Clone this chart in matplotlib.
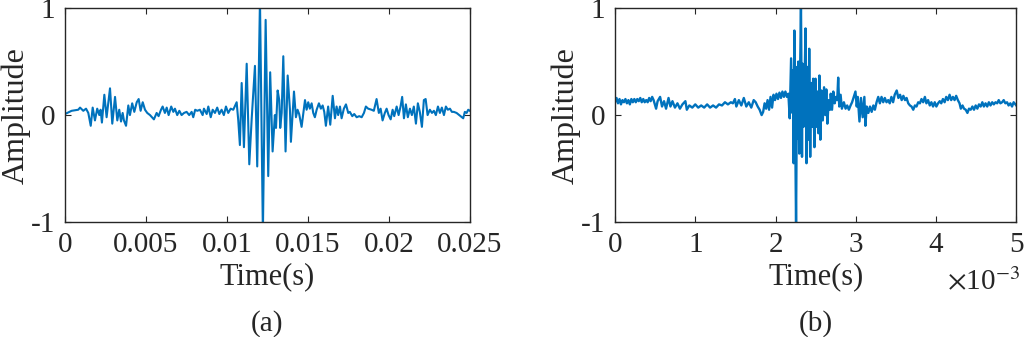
import numpy as np
import matplotlib
matplotlib.use('Agg')
import matplotlib.pyplot as plt
from matplotlib.ticker import FuncFormatter

plt.rcParams['font.family'] = ['Liberation Serif', 'DejaVu Serif']
plt.rcParams['mathtext.fontset'] = 'stix'
plt.rcParams['axes.unicode_minus'] = False

# (a) signal, time in ms, amplitude normalised
time_a_ms = [
    0.00, 0.41, 0.82, 0.93, 1.13, 1.30, 1.44, 1.59, 1.71, 1.85,
    1.99, 2.12, 2.20, 2.28, 2.43, 2.57, 2.78, 2.92, 3.09, 3.23,
    3.35, 3.46, 3.56, 3.64, 3.77, 3.91, 4.01, 4.15, 4.28, 4.43,
    4.55, 4.67, 4.80, 4.94, 5.08, 5.25, 5.49, 5.66, 5.78, 5.93,
    6.03, 6.17, 6.28, 6.40, 6.56, 6.69, 6.79, 6.93, 7.06, 7.20,
    7.35, 7.51, 7.67, 7.82, 7.92, 8.04, 8.17, 8.33, 8.50, 8.58,
    8.75, 8.85, 9.00, 9.12, 9.26, 9.40, 9.53, 9.67, 9.81, 9.94,
    10.08, 10.23, 10.39, 10.60, 10.70, 10.80, 10.91, 11.05, 11.22, 11.38,
    11.53, 11.73, 11.87, 12.04, 12.22, 12.39, 12.55, 12.67, 12.82, 12.96,
    13.03, 13.13, 13.23, 13.29, 13.38, 13.48, 13.62, 13.75, 13.89, 13.95,
    14.14, 14.26, 14.36, 14.46, 14.61, 14.82, 14.92, 15.02, 15.12, 15.23,
    15.33, 15.43, 15.54, 15.68, 15.80, 15.91, 16.01, 16.11, 16.25, 16.38,
    16.53, 16.67, 16.77, 16.87, 16.98, 17.08, 17.22, 17.35, 17.49, 17.59,
    17.74, 17.86, 18.01, 18.17, 18.32, 18.46, 18.58, 18.72, 18.93, 19.07,
    19.24, 19.38, 19.49, 19.61, 19.75, 19.86, 19.98, 20.11, 20.23, 20.33,
    20.48, 20.60, 20.72, 20.82, 20.93, 21.05, 21.17, 21.30, 21.42, 21.54,
    21.67, 21.79, 21.91, 22.04, 22.16, 22.27, 22.39, 22.53, 22.66, 22.78,
    22.90, 23.03, 23.15, 23.27, 23.40, 23.52, 23.64, 23.77, 23.89, 24.01,
    24.18, 24.34, 24.49, 24.59, 24.69, 24.80, 24.90, 25.00,
]
amp_a = [
    0.01, 0.04, 0.05, 0.07, 0.04, 0.06, 0.02, -0.10, 0.07, -0.05,
    0.06, 0.00, 0.05, -0.07, 0.19, -0.02, 0.25, -0.08, 0.17, -0.05,
    0.05, -0.06, 0.02, -0.05, -0.10, 0.09, 0.00, 0.11, 0.03, 0.12,
    0.15, 0.04, 0.12, 0.05, 0.02, 0.00, -0.04, 0.02, -0.01, 0.05,
    0.08, 0.02, 0.07, 0.00, 0.08, 0.03, 0.06, 0.00, 0.04, 0.00,
    0.02, 0.03, 0.00, 0.03, -0.02, 0.05, 0.04, 0.05, 0.00, 0.06,
    0.01, 0.08, -0.02, 0.05, 0.02, 0.07, 0.01, 0.05, 0.00, 0.08,
    0.02, 0.06, 0.05, 0.12, -0.05, -0.28, 0.30, -0.30, 0.48, -0.46,
    -0.03, 0.46, -0.48, 1.08, -1.10, 0.89, -0.57, 0.40, -0.34, 0.00,
    -0.12, 0.23, 0.14, -0.12, 0.02, 0.55, -0.34, 0.37, 0.05, -0.25,
    0.22, -0.02, 0.05, 0.01, -0.11, 0.14, 0.05, 0.12, 0.06, 0.11,
    0.02, -0.02, 0.05, 0.11, 0.06, 0.09, 0.03, -0.10, 0.08, -0.09,
    0.18, -0.03, 0.08, 0.00, 0.08, -0.03, 0.06, 0.10, 0.02, 0.03,
    -0.01, 0.01, -0.02, -0.01, -0.02, 0.02, 0.08, 0.06, 0.05, 0.04,
    0.15, 0.02, 0.06, -0.05, 0.02, 0.06, 0.00, -0.04, 0.05, -0.01,
    0.08, 0.00, 0.08, 0.17, -0.03, 0.10, -0.02, 0.06, 0.00, 0.08,
    -0.08, 0.11, 0.03, -0.11, 0.14, 0.15, 0.00, 0.05, 0.02, 0.04,
    0.00, 0.08, 0.02, 0.07, 0.00, 0.08, 0.05, 0.06, 0.03, 0.03,
    0.02, 0.00, -0.02, -0.03, 0.03, 0.02, 0.05, 0.04,
]

# (b) signal
time_b_ms = [
    0.000, 0.019, 0.037, 0.056, 0.074, 0.093, 0.111, 0.130, 0.148, 0.167,
    0.185, 0.204, 0.222, 0.241, 0.259, 0.278, 0.296, 0.315, 0.333, 0.352,
    0.370, 0.389, 0.407, 0.426, 0.444, 0.463, 0.481, 0.512, 0.531, 0.562,
    0.586, 0.611, 0.636, 0.667, 0.691, 0.716, 0.747, 0.778, 0.809, 0.840,
    0.877, 0.895, 0.926, 0.963, 1.000, 1.037, 1.074, 1.111, 1.148, 1.185,
    1.222, 1.259, 1.296, 1.333, 1.370, 1.407, 1.444, 1.469, 1.494, 1.512,
    1.543, 1.574, 1.605, 1.636, 1.667, 1.698, 1.728, 1.753, 1.778, 1.802,
    1.827, 1.846, 1.864, 1.883, 1.901, 1.920, 1.938, 1.957, 1.975, 1.994,
    2.012, 2.031, 2.049, 2.068, 2.086, 2.105, 2.123, 2.142, 2.160, 2.177,
    2.194, 2.210, 2.219, 2.226, 2.235, 2.247, 2.256, 2.268, 2.275, 2.284,
    2.296, 2.305, 2.317, 2.330, 2.337, 2.349, 2.362, 2.374, 2.386, 2.399,
    2.411, 2.420, 2.432, 2.444, 2.457, 2.469, 2.485, 2.498, 2.510, 2.522,
    2.535, 2.547, 2.559, 2.572, 2.589, 2.605, 2.621, 2.633, 2.646, 2.663,
    2.679, 2.688, 2.704, 2.720, 2.737, 2.753, 2.769, 2.781, 2.794, 2.811,
    2.827, 2.852, 2.873, 2.893, 2.914, 2.935, 2.954, 2.975, 2.996, 3.012,
    3.025, 3.046, 3.065, 3.086, 3.107, 3.120, 3.136, 3.157, 3.177, 3.198,
    3.219, 3.238, 3.259, 3.280, 3.300, 3.321, 3.342, 3.362, 3.383, 3.404,
    3.423, 3.444, 3.465, 3.485, 3.510, 3.531, 3.552, 3.572, 3.593, 3.614,
    3.633, 3.654, 3.675, 3.695, 3.716, 3.737, 3.757, 3.778, 3.799, 3.819,
    3.840, 3.861, 3.880, 3.901, 3.922, 3.942, 3.963, 3.984, 4.004, 4.025,
    4.046, 4.065, 4.086, 4.107, 4.127, 4.148, 4.169, 4.189, 4.210, 4.231,
    4.251, 4.272, 4.293, 4.309, 4.330, 4.349, 4.370, 4.391, 4.411, 4.432,
    4.453, 4.473, 4.494, 4.515, 4.535, 4.556, 4.577, 4.596, 4.617, 4.638,
    4.658, 4.679, 4.700, 4.720, 4.741, 4.762, 4.781, 4.802, 4.823, 4.843,
    4.864, 4.885, 4.904, 4.926, 4.947, 4.967, 5.000,
]
amp_b = [
    0.12, 0.16, 0.11, 0.15, 0.10, 0.14, 0.12, 0.15, 0.11, 0.14,
    0.10, 0.15, 0.12, 0.15, 0.12, 0.15, 0.13, 0.16, 0.12, 0.15,
    0.12, 0.14, 0.12, 0.16, 0.13, 0.17, 0.14, 0.06, 0.13, 0.17,
    0.08, 0.13, 0.06, 0.16, 0.08, 0.13, 0.07, 0.11, 0.06, 0.10,
    0.13, 0.05, 0.09, 0.07, 0.10, 0.07, 0.09, 0.07, 0.10, 0.07,
    0.09, 0.07, 0.10, 0.09, 0.12, 0.10, 0.12, 0.11, 0.15, 0.08,
    0.14, 0.09, 0.16, 0.08, 0.12, 0.07, 0.14, 0.12, 0.08, 0.05,
    0.00, 0.03, 0.11, 0.06, 0.14, 0.05, 0.17, 0.07, 0.19, 0.14,
    0.20, 0.15, 0.21, 0.16, 0.22, 0.17, 0.22, 0.17, 0.20, -0.03,
    0.53, 0.02, 0.42, -0.45, 0.79, -0.26, -1.05, 0.45, -0.22, 0.50,
    -0.36, 0.30, 1.05, -0.39, 0.48, -0.11, 0.30, 0.81, -0.45, 0.45,
    -0.23, 0.62, -0.39, 0.30, -0.11, 0.34, -0.30, 0.34, -0.11, 0.22,
    -0.17, 0.37, -0.23, 0.23, -0.05, 0.26, 0.00, 0.24, -0.08, 0.14,
    0.05, 0.20, 0.05, 0.22, 0.11, 0.17, 0.14, 0.35, 0.08, 0.19,
    0.06, 0.12, 0.06, 0.09, 0.05, 0.09, 0.12, 0.17, 0.22, 0.08,
    0.17, -0.06, 0.16, -0.02, 0.17, -0.10, 0.08, 0.02, 0.08, 0.03,
    0.09, 0.05, 0.12, 0.17, 0.11, 0.17, 0.12, 0.16, 0.12, 0.14,
    0.11, 0.17, 0.12, 0.19, 0.23, 0.16, 0.19, 0.14, 0.18, 0.14,
    0.16, 0.11, 0.09, 0.08, 0.05, 0.09, 0.08, 0.12, 0.11, 0.15,
    0.12, 0.17, 0.11, 0.14, 0.09, 0.12, 0.08, 0.12, 0.08, 0.11,
    0.13, 0.11, 0.15, 0.12, 0.17, 0.14, 0.19, 0.14, 0.17, 0.14,
    0.18, 0.14, 0.11, 0.06, 0.09, 0.06, 0.05, 0.02, 0.06, 0.05,
    0.08, 0.05, 0.09, 0.06, 0.10, 0.08, 0.12, 0.08, 0.11, 0.08,
    0.12, 0.09, 0.12, 0.10, 0.12, 0.11, 0.14, 0.11, 0.12, 0.14,
    0.11, 0.12, 0.09, 0.11, 0.08, 0.12, 0.09,
]

xticks_a = [0, 0.005, 0.01, 0.015, 0.02, 0.025]
xticks_b = [0, 0.001, 0.002, 0.003, 0.004, 0.005]
yticks = [-1, 0, 1]
captions = ['(a)', '(b)']

line_color = '#0072BD'
text_color = '#262626'
fs = 21

fig = plt.figure(figsize=(10.25, 3.37), dpi=100)
ax1 = fig.add_axes([0.0634, 0.341, 0.395, 0.635])
ax2 = fig.add_axes([0.600, 0.341, 0.3915, 0.635])

ax1.plot(np.array(time_a_ms) / 1000, amp_a, color=line_color, lw=1.5)
ax2.plot(np.array(time_b_ms) / 1000, amp_b, color=line_color, lw=1.7)

ax1.set_xlim(0, 0.025)
ax1.set_xticks(xticks_a)
ax1.xaxis.set_major_formatter(FuncFormatter(lambda v, p: '%g' % v))

ax2.set_xlim(0, 0.005)
ax2.set_xticks(xticks_b)
ax2.xaxis.set_major_formatter(FuncFormatter(lambda v, p: '%g' % (v * 1000)))
ax2.text(1.01, -0.215, r'$\times$10$^{-3}$', transform=ax2.transAxes,
         ha='right', va='top', fontsize=fs, color=text_color)

for ax, cap in zip([ax1, ax2], captions):
    ax.set_ylim(-1, 1)
    ax.set_yticks(yticks)
    ax.tick_params(direction='in', top=True, right=True, length=4, width=0.8,
                   labelsize=fs, colors=text_color, pad=7)
    for s in ax.spines.values():
        s.set_linewidth(1.0)
        s.set_color(text_color)
    ax.set_xlabel('Time(s)', fontsize=22, color=text_color, labelpad=3)
    ax.set_ylabel('Amplitude', fontsize=23, color=text_color, labelpad=0)
    ax.text(0.5, -0.475, cap, transform=ax.transAxes, ha='center', va='center',
            fontsize=fs, color=text_color)

fig.savefig('out.png', dpi=100)
